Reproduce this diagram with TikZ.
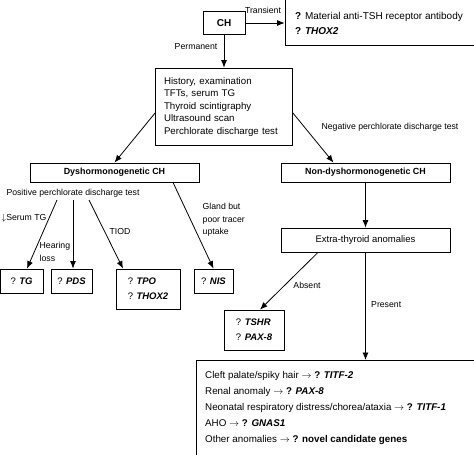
\documentclass[tikz,border=0pt]{standalone}
\usepackage{fontspec}
\setmainfont{Liberation Sans}
\usepackage{tikz}
\usetikzlibrary{arrows.meta, positioning, calc}

\begin{document}
\begin{tikzpicture}[x=1pt, y=-1pt,
    box/.style={draw, line width=0.8pt, inner sep=0pt, align=center},
    genebox/.style={box, font=\fontsize{9.5}{15}\selectfont},
    lbl/.style={inner sep=0pt, align=left, font=\fontsize{8.7}{12.5}\selectfont},
    arr/.style={line width=0.8pt, -{Latex[length=7.5pt,width=6pt]}}]
  \useasboundingbox (0,0) rectangle (474,455);
  \clip (0,0) rectangle (474,455);
  % CH and transient box
  \node[box, minimum width=42pt, minimum height=23pt, font=\bfseries\fontsize{10}{12}\selectfont] (ch) at (224,23) {CH};
  \node[box, minimum width=195pt, minimum height=52pt] (trans) at (382.5,19) {};
  \node[anchor=west, inner sep=0pt, align=left, font=\fontsize{10}{15}\selectfont] (transtxt) at (295,23) {\textbf{?} Material anti-TSH receptor antibody\\\textbf{? \textit{THOX2}}};
  \draw[arr] (ch.east) -- (ch.east -| trans.west);
  \node[lbl] (translbl) at (263,10) {Transient};
  % Work-up box
  \node[box, minimum width=137pt, minimum height=77pt, inner xsep=8.5pt, text width=120pt, align=left, font=\fontsize{9.7}{12.5}\selectfont] (hist) at (224,106.5) {History, examination\\TFTs, serum TG\\Thyroid scintigraphy\\Ultrasound scan\\Perchlorate discharge test};
  \draw[arr] (ch) -- (hist);
  \node[lbl] (permlbl) at (196,47) {Permanent};
  % Two branches
  \node[box, minimum width=169pt, minimum height=19pt, font=\bfseries\fontsize{8.9}{12}\selectfont] (dysh) at (114.5,172.5) {Dyshormonogenetic CH};
  \node[box, minimum width=169pt, minimum height=19pt, font=\bfseries\fontsize{8.9}{12}\selectfont] (nondysh) at (365.5,172.5) {Non-dyshormonogenetic CH};
  \draw[arr] ($(hist.west)+(0,6.5)$) -- (dysh.north);
  \draw[arr] ($(hist.east)+(0,6.5)$) -- ($(nondysh.north)+(-32,0)$);
  \node[lbl] (neglbl) at (390,127) {Negative perchlorate discharge test};
  % Dyshormonogenetic side
  \node[lbl] (poslbl) at (73,193) {Positive perchlorate discharge test};
  \coordinate (p1) at (57,200);
  \coordinate (p2) at (73,200);
  \coordinate (p3) at (89,200);
  \node[genebox, minimum width=43pt, minimum height=24pt] (tg) at (21.5,281) {? \textbf{\textit{TG}}};
  \node[genebox, minimum width=41pt, minimum height=24pt] (pds) at (71.5,281) {? \textbf{\textit{PDS}}};
  \node[genebox, minimum width=64pt, minimum height=40pt, align=left] (tpo) at (148,289) {? \textbf{\textit{TPO}}\\? \textbf{\textit{THOX2}}};
  \node[genebox, minimum width=39pt, minimum height=24pt] (nis) at (213.5,281) {? \textbf{\textit{NIS}}};
  \draw[arr] (p1) -- ($(tg.north)+(5.5,0)$);
  \draw[arr] (p2) -- (p2 |- pds.north);
  \draw[arr] (p3) -- ($(tpo.north)+(-25,0)$);
  \draw[arr] ($(dysh.south)+(58.5,0)$) -- (nis.north);
  \node[lbl] (tglbl) at (24,218) {$\downarrow$Serum TG};
  \node[lbl, anchor=west] (hearlbl) at (39.5,252) {Hearing\\loss};
  \node[lbl] (tiodlbl) at (120,232) {TIOD};
  \node[lbl, anchor=west] (glandlbl) at (202.5,220) {Gland but\\poor tracer\\uptake};
  % Non-dyshormonogenetic side
  \node[box, minimum width=169pt, minimum height=24pt, font=\fontsize{9.5}{12}\selectfont] (extra) at (365.5,240) {Extra-thyroid anomalies};
  \draw[arr] (nondysh) -- (extra);
  \node[genebox, minimum width=60pt, minimum height=40pt, align=left] (tshr) at (254,330) {? \textbf{\textit{TSHR}}\\? \textbf{\textit{PAX-8}}};
  \draw[arr] ($(extra.south)+(-47.5,0)$) -- ($(tshr.north)+(6,0)$);
  \node[lbl] (abslbl) at (307,285) {Absent};
  \node[box, minimum width=280pt, minimum height=112pt, anchor=north west] (other) at (196,360) {};
  \node[anchor=north west, inner sep=0pt, align=left, font=\fontsize{9.8}{16}\selectfont] (othertxt) at (205,371) {Cleft palate/spiky hair $\rightarrow$ \textbf{? \textit{TITF-2}}\\Renal anomaly $\rightarrow$ \textbf{? \textit{PAX-8}}\\Neonatal respiratory distress/chorea/ataxia $\rightarrow$ \textbf{? \textit{TITF-1}}\\AHO $\rightarrow$ \textbf{? \textit{GNAS1}}\\Other anomalies $\rightarrow$ \textbf{? novel candidate genes}};
  \draw[arr] (extra.south) -- (extra.south |- other.north);
  \node[lbl, anchor=west] (preslbl) at (371,305) {Present};
\end{tikzpicture}
\end{document}
